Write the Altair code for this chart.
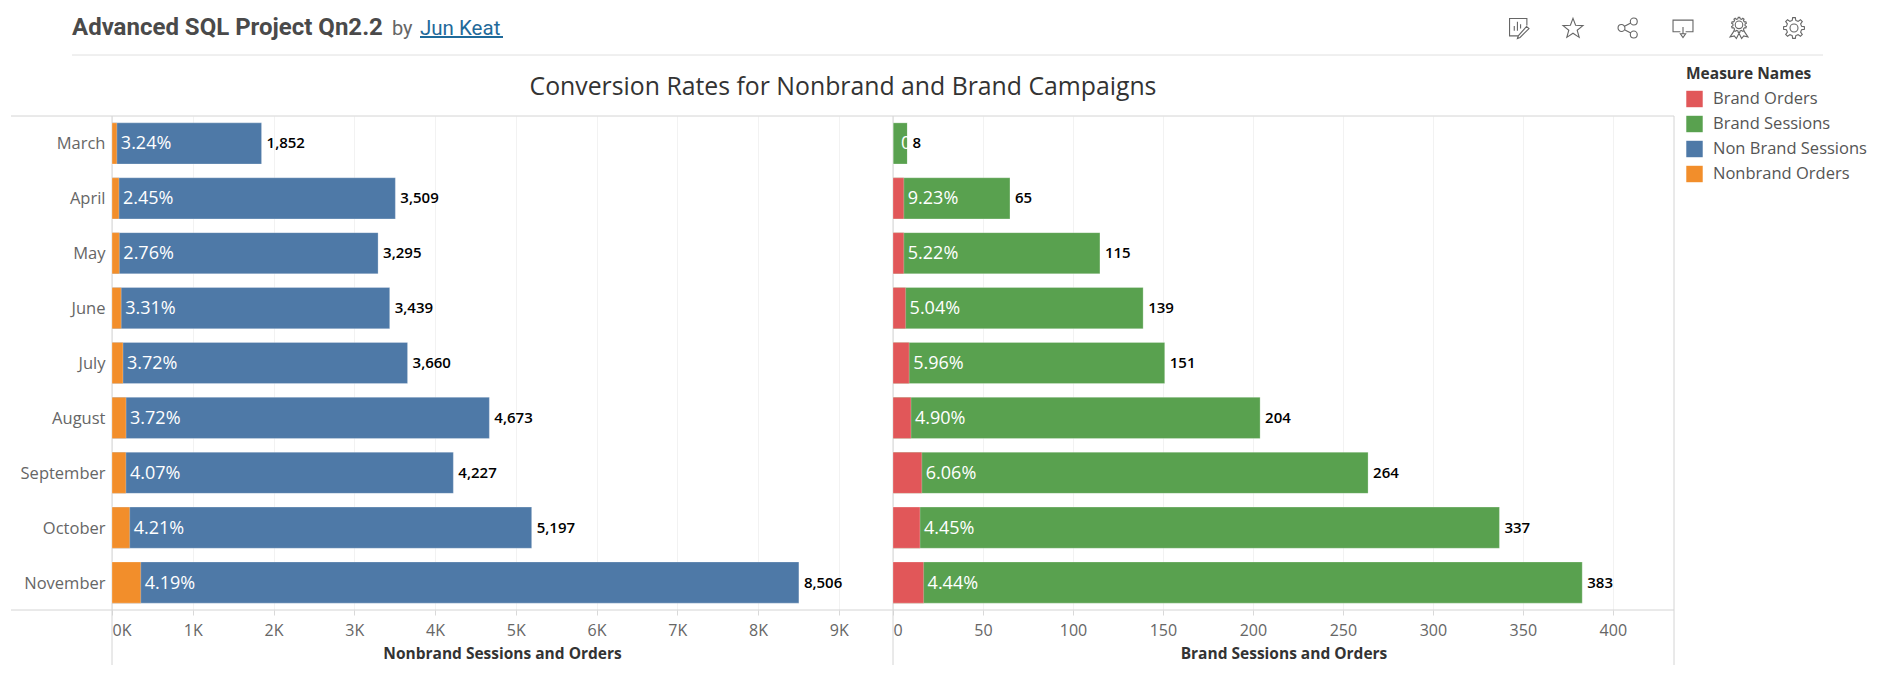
import math
import altair as alt
import pandas as pd

months = ["March", "April", "May", "June", "July", "August", "September", "October", "November"]
nonbrand_sessions = [1852, 3509, 3295, 3439, 3660, 4673, 4227, 5197, 8506]
nonbrand_orders = [60, 86, 91, 114, 136, 174, 172, 219, 356]
nonbrand_rates = ["3.24%", "2.45%", "2.76%", "3.31%", "3.72%", "3.72%", "4.07%", "4.21%", "4.19%"]
brand_sessions = [8, 65, 115, 139, 151, 204, 264, 337, 383]
brand_orders = [0, 6, 6, 7, 9, 10, 16, 15, 17]
brand_rates = ["0.00%", "9.23%", "5.22%", "5.04%", "5.96%", "4.90%", "6.06%", "4.45%", "4.44%"]
nonbrand_ticks = [0, 1000, 2000, 3000, 4000, 5000, 6000, 7000, 8000, 9000]
brand_ticks = [0, 50, 100, 150, 200, 250, 300, 350, 400]
measures = ["Brand Orders", "Brand Sessions", "Non Brand Sessions", "Nonbrand Orders"]
colors = ["#E15759", "#59A14F", "#4E79A7", "#F28E2B"]

FONT = "Open Sans"
W, H = 1562, 494
LEFT_W = 780

df = pd.DataFrame({
    "month": months, "ns": nonbrand_sessions, "no": nonbrand_orders, "nr": nonbrand_rates,
    "bs": brand_sessions, "bo": brand_orders, "br": brand_rates,
})
df["m_ns"], df["m_no"], df["m_bs"], df["m_bo"] = measures[2], measures[3], measures[1], measures[0]
first_row = df[df["month"] == months[0]].assign(cut_end=31)
other_rows = df[df["month"] != months[0]]

y = alt.Y("month:N", sort=months, title=None,
          scale=alt.Scale(paddingInner=0.25, paddingOuter=0.125),
          axis=alt.Axis(labelFont=FONT, labelFontSize=16.5, labelColor="#666666", labelPadding=7,
                        labelOffset=1, ticks=False, domain=False, grid=False))
color_scale = alt.Scale(domain=measures, range=colors)


def panel(sess, orders, rate, mname_s, mname_o, domain, rng, ticks, title, fmt_expr):
    x = alt.X(f"{sess}:Q", title=title,
              scale=alt.Scale(domain=domain, range=rng, nice=False, zero=True),
              axis=alt.Axis(orient="bottom", values=ticks, labelExpr=fmt_expr, labelFlush=True,
                            labelFont=FONT, labelFontSize=16, labelColor="#666666", labelPadding=7,
                            tickColor="#D9D9D9", tickSize=5, domain=False,
                            grid=True, gridColor="#F2F2F2",
                            titleFont=FONT, titleFontSize=15.5, titleFontWeight="bold",
                            titleColor="#333333", titlePadding=8))
    bar_kw = dict(stroke="white", strokeWidth=1, strokeOpacity=0.25)
    sess_bar = alt.Chart(df).mark_bar(**bar_kw).encode(
        x=x, y=y,
        color=alt.Color(f"{mname_s}:N", scale=color_scale,
                        legend=alt.Legend(title="Measure Names", orient="none", legendX=1574, legendY=-49,
                                          titleFont=FONT, titleFontSize=15.5, titleFontWeight="bold",
                                          titleColor="#333333", titlePadding=8,
                                          labelFont=FONT, labelFontSize=16.5, labelColor="#555555",
                                          symbolType="square", symbolSize=270, symbolStrokeWidth=0,
                                          rowPadding=8, labelOffset=10, values=measures)),
    )
    order_bar = alt.Chart(df).mark_bar(**bar_kw).encode(
        x=alt.X(f"{orders}:Q"), y=y, color=alt.Color(f"{mname_o}:N", scale=color_scale),
    )

    def pct(data, dx):
        return alt.Chart(data).mark_text(align="left", baseline="middle", dx=dx, dy=1, font=FONT,
                                         fontSize=18, color="white").encode(
            x=alt.X(f"{orders}:Q"), y=y, text=f"{rate}:N")

    layers = [sess_bar, order_bar]
    if sess == "bs":
        # the first label is cut off at the end of its short bar, as in the source view
        mask = alt.Chart(first_row).mark_bar(color="white").encode(
            x=alt.X("bs:Q", stack=None), x2="cut_end:Q", y=y)
        layers += [pct(other_rows, 4), pct(first_row, 8), mask]
    else:
        layers.append(pct(df, 4))
    total = alt.Chart(df).mark_text(align="left", baseline="middle", dx=5, font=FONT, fontSize=15,
                                    fontWeight=600, color="black").encode(
        x=alt.X(f"{sess}:Q"), y=y, text=alt.Text(f"{sess}:Q", format=","))
    layers.append(total)
    return alt.layer(*layers)


left = panel("ns", "no", "nr", "m_ns", "m_no", [0, 9659], [0, LEFT_W], nonbrand_ticks,
             "Nonbrand Sessions and Orders", "datum.value / 1000 + 'K'")
right = panel("bs", "bo", "br", "m_bs", "m_bo", [0, 434], [LEFT_W + 1, W], brand_ticks,
              "Brand Sessions and Orders", "datum.label")


def rule(x1, x2, y1, y2, color="#D4D4D4", width=1):
    enc = dict(x=alt.value(x1), y=alt.value(y1))
    if x2 != x1:
        enc["x2"] = alt.value(x2)
    if y2 != y1:
        enc["y2"] = alt.value(y2)
    return alt.Chart(df.head(1)).mark_rule(color=color, strokeWidth=width).encode(**enc)


def label(txt, x, yy, size, color, weight="normal", align="left", font=FONT):
    return alt.Chart(df.head(1)).mark_text(text=txt, align=align, baseline="alphabetic", font=font,
                                           fontSize=size, color=color, fontWeight=weight).encode(
        x=alt.value(x), y=alt.value(yy))


def circle(cx, cy, r):
    return f"M{cx - r},{cy} a{r},{r} 0 1 0 {2 * r},0 a{r},{r} 0 1 0 {-2 * r},0 "


def spiky(cx, cy, r1, r2, n, start=-90):
    pts = []
    for i in range(2 * n):
        r = r1 if i % 2 == 0 else r2
        a = math.radians(start + i * 180 / n)
        pts.append(f"{cx + r * math.cos(a):.3f},{cy + r * math.sin(a):.3f}")
    return "M" + " L".join(pts) + " Z "


def cog(cx, cy, r1, r2, n):
    pts = []
    step = 360 / n
    for i in range(n):
        b = -90 + i * step
        for off, r in ((-0.30, r2), (-0.16, r1), (0.16, r1), (0.30, r2)):
            a = math.radians(b + off * step)
            pts.append(f"{cx + r * math.cos(a):.3f},{cy + r * math.sin(a):.3f}")
    return "M" + " L".join(pts) + " Z "


icon_paths = [
    ("M0.75,-0.25 V-0.9 H-0.9 V0.75 H-0.1 M-0.45,0.25 V-0.2 M-0.15,0.25 V-0.6 M0.15,0.05 V-0.35 "
     "M0.95,0.05 L0.1,0.9 L-0.15,1 L-0.05,0.72 L0.72,-0.15 Z"),
    spiky(0, 0.08, 1.0, 0.42, 5),
    circle(-0.62, 0, 0.33) + circle(0.55, -0.62, 0.33) + circle(0.55, 0.62, 0.33)
    + "M-0.33,-0.16 L0.26,-0.48 M-0.33,0.16 L0.26,0.48",
    "M-0.25,0.35 H-0.95 V-0.75 H0.95 V0.35 H0.25 M0,-0.1 V0.55 M-0.25,0.55 H0.25 L0,0.9 Z",
    cog(0, -0.3, 0.72, 0.58, 10) + circle(0, -0.3, 0.36)
    + "M-0.45,0.25 L-0.85,0.85 L-0.45,0.75 L-0.25,1 L0,0.5 L0.25,1 L0.45,0.75 L0.85,0.85 L0.45,0.25",
    cog(0, 0, 1.0, 0.74, 8) + circle(0, 0, 0.38),
]
icon_xs = [1407, 1461, 1516, 1571, 1627, 1682]
icons = alt.layer(*[
    alt.Chart(df.head(1)).mark_point(shape=p, size=441, filled=False, stroke="#666666",
                                     strokeWidth=1.1, opacity=1).encode(
        x=alt.value(ix), y=alt.value(-88))
    for p, ix in zip(icon_paths, icon_xs)
])

frame = alt.layer(
    rule(-101, W, 0, 0), rule(-101, W, H, H),
    rule(0, 0, 0, 556), rule(LEFT_W + 1, LEFT_W + 1, 0, 556), rule(W, W, 0, 556),
    rule(-40, 1711, -61, -61, color="#E0E0E0"),
)
header = alt.layer(
    label("Advanced SQL Project Qn2.2", -40, -81, 24, "#4A4A4A", "bold", font="Roboto"),
    label("by", 280, -81, 20, "#666666", font="Roboto"),
    label("Jun Keat", 308, -81, 20.5, "#1F6A9A", font="Roboto"),
    rule(308, 391, -79, -79, color="#1F6A9A", width=2),
    label("Conversion Rates for Nonbrand and Brand Campaigns", 731, -21, 24.8, "#333333", align="center"),
)

chart = alt.layer(frame, left, right, header, icons).resolve_scale(x="independent").properties(
    width=W, height=H,
    padding={"left": 104, "top": 108, "right": 195, "bottom": 55},
    autosize=alt.AutoSizeParams(type="none"),
).configure_view(stroke=None).configure_axisY(domain=False)

chart.save("out.html", embed_options={"renderer": "svg", "actions": False})
